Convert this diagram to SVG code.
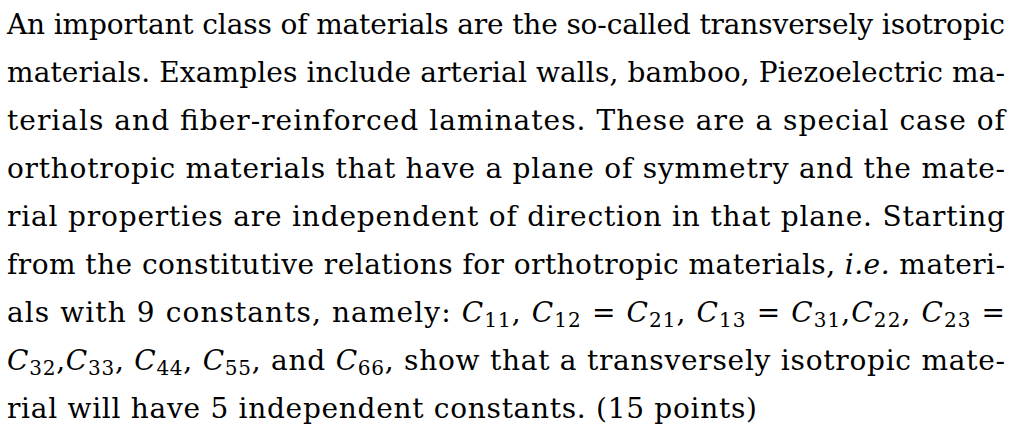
<svg xmlns="http://www.w3.org/2000/svg" width="1024" height="438" viewBox="0 0 1024 438">
<style>
text{font-family:"DejaVu Serif","Liberation Serif",serif;font-size:28px;fill:#000}
.i{font-style:italic}
.s{font-size:20px}
</style>
<rect width="1024" height="438" fill="#fff"/>
<text x="7" y="34" textLength="998" lengthAdjust="spacing">An important class of materials are the so-called transversely isotropic</text>
<text x="7" y="82" textLength="998" lengthAdjust="spacing">materials. Examples include arterial walls, bamboo, Piezoelectric ma-</text>
<text x="7" y="130" textLength="998" lengthAdjust="spacing">terials and fiber-reinforced laminates.  These are a special case of</text>
<text x="7" y="178" textLength="998" lengthAdjust="spacing">orthotropic materials that have a plane of symmetry and the mate-</text>
<text x="7" y="226" textLength="998" lengthAdjust="spacing">rial properties are independent of direction in that plane.  Starting</text>
<text x="7" y="274" textLength="998" lengthAdjust="spacing">from the constitutive relations for orthotropic materials, <tspan class="i">i.e.</tspan> materi-</text>
<text x="7" y="322" textLength="998" lengthAdjust="spacing">als with 9 constants, namely: <tspan class="i">C</tspan><tspan class="s" dy="5">11</tspan><tspan dy="-5">, </tspan><tspan class="i">C</tspan><tspan class="s" dy="5">12</tspan><tspan dy="-5"> = </tspan><tspan class="i">C</tspan><tspan class="s" dy="5">21</tspan><tspan dy="-5">, </tspan><tspan class="i">C</tspan><tspan class="s" dy="5">13</tspan><tspan dy="-5"> = </tspan><tspan class="i">C</tspan><tspan class="s" dy="5">31</tspan><tspan dy="-5">,</tspan><tspan class="i">C</tspan><tspan class="s" dy="5">22</tspan><tspan dy="-5">, </tspan><tspan class="i">C</tspan><tspan class="s" dy="5">23</tspan><tspan dy="-5"> =</tspan></text>
<text x="7" y="370" textLength="998" lengthAdjust="spacing"><tspan class="i">C</tspan><tspan class="s" dy="5">32</tspan><tspan dy="-5">,</tspan><tspan class="i">C</tspan><tspan class="s" dy="5">33</tspan><tspan dy="-5">, </tspan><tspan class="i">C</tspan><tspan class="s" dy="5">44</tspan><tspan dy="-5">, </tspan><tspan class="i">C</tspan><tspan class="s" dy="5">55</tspan><tspan dy="-5">, and </tspan><tspan class="i">C</tspan><tspan class="s" dy="5">66</tspan><tspan dy="-5">, show that a transversely isotropic mate-</tspan></text>
<text x="7" y="418" textLength="750" lengthAdjust="spacing">rial will have 5 independent constants. (15 points)</text>
</svg>
